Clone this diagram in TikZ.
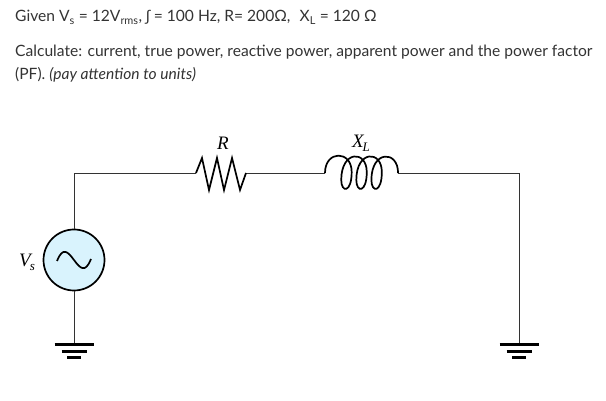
\documentclass[tikz,border=0pt]{standalone}
\usepackage{fontspec}
\setmainfont{Lato}
\newfontfamily\labfont{Liberation Serif}
\usetikzlibrary{shapes.geometric}
\begin{document}
\begin{tikzpicture}[x=1pt,y=-1pt,
  wire/.style={line width=0.9pt, draw=black!80},
  comp/.style={line width=1.7pt, line join=miter},
  gbar/.style={line width=3pt},
  txt/.style={anchor=base west, inner sep=0pt, font=\fontsize{15.6}{17}\selectfont, text=black!80},
  lab/.style={inner sep=0pt, font=\fontsize{19}{21}\selectfont\labfont\itshape}]
\useasboundingbox (0,0) rectangle (606,401);
\node[txt] (t1) at (15,22) {Given V\textsubscript{s} = 12V\textsubscript{rms}, ʃ = 100 Hz, R= 200Ω,\,\, X\textsubscript{L} = 120 Ω};
\node[txt] (t2) at (15,57) {Calculate: current, true power, reactive power, apparent power and the power factor};
\node[txt] (t3) at (15,80) {(PF). \textit{(pay attention to units)}};
% source
\node[draw, line width=1.7pt, fill=cyan!15, circle, minimum size=61pt, inner sep=0pt] (src) at (74,260) {};
\draw[line width=1.7pt] (57,261) .. controls (63,246) and (68,252) .. (74,260) .. controls (80,268) and (85,274) .. (91,259);
\node[lab] (vs) at (27,262) {V\kern-1pt\raisebox{-4pt}{\fontsize{13}{14}\selectfont s}};
\coordinate (tl) at (74,173);
\coordinate (r1) at (196,173);
\coordinate (r2) at (246,173);
\coordinate (l1) at (325,173);
\coordinate (l2) at (398,173);
\coordinate (tr) at (519,173);
\coordinate (g1) at (74,344);
\coordinate (g2) at (519,344);
\draw[wire] (src.north) -- (tl) -- (r1);
\draw[wire] (r2) -- (l1);
\draw[wire] (l2) -- (tr) -- (g2);
\draw[wire] (src.south) -- (g1);
\draw[comp] (r1) -- (202,158) -- (209,190) -- (217,158) -- (224,190) -- (232,158) -- (240,190) -- (r2);
\begin{scope}[shift={(325,173)}, xscale=1.16]
\draw[comp] (0,0) .. controls (0,-23) and (23,-23) .. (23,-1)
  .. controls (23,20) and (14,20) .. (14,7) .. controls (14,-23) and (36,-23) .. (36,-1)
  .. controls (36,20) and (27,20) .. (27,7) .. controls (27,-23) and (49,-23) .. (49,-1)
  .. controls (49,20) and (40,20) .. (40,7) .. controls (40,-23) and (63,-23) .. (63,0);
\end{scope}
\node[lab] (rl) at (223,143) {R};
\node[lab] (xl) at (361,143) {X\kern-1pt\raisebox{-4pt}{\fontsize{13}{14}\selectfont L}};
\foreach \g in {g1,g2}{
  \draw[gbar] ([xshift=-19.5pt]\g) -- ([xshift=19.5pt]\g);
  \draw[gbar] ([xshift=-12.5pt,yshift=-7pt]\g) -- ([xshift=12.5pt,yshift=-7pt]\g);
  \draw[gbar] ([xshift=-7pt,yshift=-13.5pt]\g) -- ([xshift=7pt,yshift=-13.5pt]\g);
}
\end{tikzpicture}
\end{document}
